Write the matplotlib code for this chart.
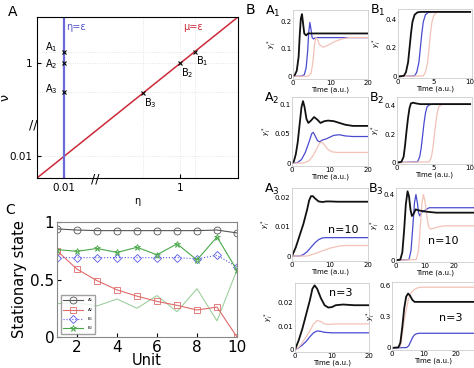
import numpy as np
import matplotlib.pyplot as plt

W, H = 474, 368

# ---- panel A: parameter plane ----
diag = [0.0034, 10]
eps_eta = 0.01
a_pts_v = [1.8, 1.0, 0.24]
a_names = ['A$_1$', 'A$_2$', 'A$_3$']
b_pts = [1.8, 1.0, 0.23]
b_names = ['B$_1$', 'B$_2$', 'B$_3$']

# ---- panel C: stationary states per unit ----
units = np.arange(1, 11)
c_a1 = [0.94, 0.93, 0.925, 0.925, 0.925, 0.925, 0.925, 0.925, 0.93, 0.905]
c_a2 = [0.75, 0.59, 0.49, 0.41, 0.355, 0.31, 0.275, 0.235, 0.26, 0.0]
c_b1 = [0.69, 0.69, 0.69, 0.69, 0.69, 0.69, 0.69, 0.68, 0.71, 0.61]
c_b2 = [0.76, 0.745, 0.77, 0.735, 0.78, 0.715, 0.81, 0.67, 0.87, 0.58]
c_extra = [0.29, 0.30, 0.27, 0.33, 0.25, 0.36, 0.22, 0.42, 0.14, 0.585]

# ---- panel B: time courses (black, blue, pink) ----
a1_k_t = [0, 0.5, 1, 1.5, 1.8, 2.1, 2.4, 2.7, 3.0, 3.5, 4, 5, 20]
a1_k_y = [0, 0.005, 0.02, 0.07, 0.15, 0.21, 0.225, 0.19, 0.155, 0.148, 0.155, 0.155, 0.155]
a1_b_t = [0, 2, 3, 3.5, 3.9, 4.2, 4.5, 4.8, 5.1, 5.5, 6, 8, 20]
a1_b_y = [0, 0, 0.005, 0.03, 0.09, 0.16, 0.195, 0.17, 0.14, 0.135, 0.14, 0.14, 0.14]
a1_p_t = [0, 4, 4.8, 5.3, 5.7, 6.1, 6.5, 7, 8, 9, 11, 13, 15, 20]
a1_p_y = [0, 0, 0.01, 0.05, 0.11, 0.14, 0.135, 0.115, 0.105, 0.11, 0.125, 0.135, 0.14, 0.14]

b1_k_t = [0, 0.8, 1.1, 1.4, 1.6, 1.8, 2.0, 2.3, 2.7, 3.2, 10]
b1_k_y = [0, 0.005, 0.03, 0.1, 0.2, 0.3, 0.38, 0.43, 0.447, 0.45, 0.45]
b1_b_t = [0, 2.3, 2.6, 2.9, 3.1, 3.3, 3.5, 3.8, 4.2, 4.7, 10]
b1_b_y = [0, 0.005, 0.03, 0.1, 0.2, 0.3, 0.38, 0.43, 0.447, 0.45, 0.45]
b1_p_t = [0, 3.5, 3.8, 4.1, 4.3, 4.5, 4.7, 5.0, 5.4, 5.9, 10]
b1_p_y = [0, 0.005, 0.03, 0.1, 0.2, 0.3, 0.38, 0.43, 0.447, 0.45, 0.45]

a2_k_t = [0, 0.5, 1, 1.5, 2, 2.5, 2.9, 3.3, 3.8, 4.3, 5, 5.8, 6.6, 7.5, 8.5, 9.5, 11, 12.5, 14, 16, 20]
a2_k_y = [0, 0.003, 0.015, 0.035, 0.065, 0.095, 0.105, 0.095, 0.075, 0.068, 0.072, 0.078, 0.074,
          0.068, 0.071, 0.072, 0.071, 0.068, 0.065, 0.063, 0.063]
a2_b_t = [0, 1.5, 2.5, 3.5, 4.5, 5.2, 5.6, 6.1, 6.7, 7.3, 8, 9, 10, 11, 12.5, 14, 16, 20]
a2_b_y = [0, 0.001, 0.006, 0.018, 0.036, 0.05, 0.052, 0.046, 0.038, 0.036, 0.039, 0.041, 0.044,
          0.047, 0.048, 0.046, 0.045, 0.045]
a2_p_t = [0, 3, 4.5, 5.5, 6.5, 7.2, 7.8, 8.5, 9.3, 10.5, 12, 20]
a2_p_y = [0, 0, 0.004, 0.012, 0.024, 0.033, 0.036, 0.031, 0.024, 0.019, 0.018, 0.018]

b2_k_t = [0, 0.6, 0.9, 1.1, 1.3, 1.5, 1.7, 1.9, 2.2, 2.6, 3.2, 10]
b2_k_y = [0, 0.005, 0.04, 0.12, 0.22, 0.31, 0.38, 0.415, 0.42, 0.415, 0.41, 0.41]
b2_b_t = [0, 2.8, 3.1, 3.3, 3.5, 3.7, 3.9, 4.1, 4.4, 4.9, 10]
b2_b_y = [0, 0.005, 0.04, 0.1, 0.19, 0.28, 0.35, 0.39, 0.405, 0.41, 0.41]
b2_p_t = [0, 4.4, 4.7, 4.9, 5.1, 5.3, 5.5, 5.7, 6.0, 6.5, 10]
b2_p_y = [0, 0.005, 0.04, 0.1, 0.19, 0.28, 0.35, 0.39, 0.405, 0.41, 0.41]

a3_k_t = [0, 1, 2, 3, 4, 4.5, 5, 5.5, 6, 7, 8, 9, 10, 12, 20]
a3_k_y = [0, 0.003, 0.007, 0.011, 0.016, 0.019, 0.0205, 0.0205, 0.0198, 0.0187, 0.0185, 0.0187,
          0.0187, 0.0186, 0.0186]
a3_b_t = [0, 2, 3, 4, 5, 6, 7, 8, 9, 20]
a3_b_y = [0, 0, 0.0005, 0.0015, 0.003, 0.0045, 0.0056, 0.0062, 0.0063, 0.0063]
a3_p_t = [0, 4, 6, 8, 10, 12, 13, 14, 20]
a3_p_y = [0, 0, 0.0008, 0.0018, 0.0027, 0.0033, 0.0035, 0.0036, 0.0036]

b3_k_t = [0, 1.5, 2.2, 2.8, 3.4, 4.0, 4.5, 5.0, 5.5, 6.0, 6.8, 7.6, 9, 11, 14, 27]
b3_k_y = [0, 0.005, 0.05, 0.18, 0.34, 0.42, 0.39, 0.31, 0.27, 0.28, 0.31, 0.305, 0.3, 0.295, 0.29, 0.29]
b3_b_t = [0, 4.5, 5.2, 5.8, 6.4, 6.9, 7.4, 7.8, 8.2, 8.8, 9.6, 10.5, 11.5, 13, 27]
b3_b_y = [0, 0.005, 0.06, 0.2, 0.35, 0.4, 0.35, 0.29, 0.27, 0.29, 0.3, 0.31, 0.32, 0.32, 0.32]
b3_p_t = [0, 7, 7.8, 8.4, 9, 9.5, 10, 10.6, 11.2, 11.9, 13, 15, 17, 27]
b3_p_y = [0, 0.005, 0.06, 0.2, 0.35, 0.4, 0.36, 0.28, 0.21, 0.19, 0.195, 0.205, 0.21, 0.21]

a4_k_t = [0, 1, 2, 3, 4, 4.7, 5.3, 6, 7, 8, 9, 10, 11, 13, 16, 20]
a4_k_y = [0, 0.004, 0.009, 0.015, 0.021, 0.026, 0.0275, 0.026, 0.022, 0.019, 0.018, 0.0182, 0.019,
          0.0193, 0.019, 0.019]
a4_b_t = [0, 1, 2, 3, 4, 5, 6, 7, 8, 10, 20]
a4_b_y = [0, 0.0008, 0.002, 0.0035, 0.0055, 0.0072, 0.008, 0.0078, 0.0074, 0.0072, 0.0072]
a4_p_t = [0, 1, 2, 3, 4, 5, 6, 7, 8, 9, 11, 20]
a4_p_y = [0, 0.001, 0.003, 0.0055, 0.008, 0.011, 0.0125, 0.012, 0.011, 0.0108, 0.011, 0.011]

b4_k_t = [0, 2, 2.6, 3.2, 3.8, 4.4, 5.0, 5.6, 6.3, 7, 8, 10, 25.5]
b4_k_y = [0, 0.005, 0.05, 0.2, 0.38, 0.49, 0.52, 0.5, 0.46, 0.44, 0.44, 0.44, 0.44]
b4_b_t = [0, 4.5, 5.2, 5.8, 6.4, 7, 7.6, 8.5, 25.5]
b4_b_y = [0, 0.003, 0.02, 0.06, 0.1, 0.125, 0.135, 0.14, 0.14]
b4_p_t = [0, 2.5, 3, 3.5, 4, 4.5, 5, 5.5, 6, 7, 8, 9, 25.5]
b4_p_y = [0, 0.01, 0.08, 0.2, 0.3, 0.38, 0.45, 0.5, 0.53, 0.56, 0.575, 0.58, 0.58]

K, BL, PK = '#111111', '#4a4ad0', '#f2c2b8'

fig = plt.figure(figsize=(W / 100, H / 100), dpi=100)


def box(l, t, r, b):
    return [l / W, 1 - b / H, (r - l) / W, (b - t) / H]


# ================= A =================
ax = fig.add_axes(box(37, 17, 238, 178))
ax.set_xscale('log')
ax.set_yscale('log')
ax.set_xlim(10 ** -2.47, 10)
ax.set_ylim(10 ** -2.47, 10)
for v in [0.01, b_pts[2], 1, b_pts[0]]:
    ax.axvline(v, color='#dddddd', lw=0.6, ls=':', zorder=0)
for v in [0.01, a_pts_v[2], 1, a_pts_v[0]]:
    ax.axhline(v, color='#dddddd', lw=0.6, ls=':', zorder=0)
ax.plot(diag, diag, color='#cc2a3a', lw=1.1)
ax.axvline(eps_eta, color='#6a6ad8', lw=1.6)
ax.plot([eps_eta] * 3, a_pts_v, 'x', color='k', ms=3, mew=0.8)
ax.plot(b_pts, b_pts, 'x', color='k', ms=3, mew=0.8)
for v, n, dy in zip(a_pts_v, a_names, [3.5, -0.5, 2]):
    ax.annotate(n, (eps_eta, v), xytext=(-5, dy), textcoords='offset points',
                ha='right', va='center', fontsize=7)
for v, n in zip(b_pts, b_names):
    ax.annotate(n, (v, v), xytext=(1, -2), textcoords='offset points',
                ha='left', va='top', fontsize=7)
ax.text(0.0108, 5.2, 'η=ε', color='#5a5ad0', fontsize=7)
ax.text(1.15, 5.2, 'μ=ε', color='#cc2a3a', fontsize=7)
ax.set_xticks([0.01, 1])
ax.set_xticklabels(['0.01', '1'])
ax.set_yticks([0.01, 1])
ax.set_yticklabels(['0.01', '1'])
ax.minorticks_off()
ax.tick_params(direction='in', labelsize=7.5, length=3)
ax.set_xlabel('η', fontsize=7, labelpad=2)
ax.set_ylabel('ν', fontsize=9)
ax.yaxis.set_label_coords(-0.125, 0.5)
ax.text(-0.02, 0.33, '//', transform=ax.transAxes, fontsize=9, ha='center', va='center',
        clip_on=False)
ax.text(0.29, -0.005, '//', transform=ax.transAxes, fontsize=9, ha='center', va='center',
        clip_on=False)

# ================= C =================
ax = fig.add_axes(box(57, 222, 237, 337))
ax.plot(units, c_extra, color='#9ed09e', lw=0.8)
ax.plot(units, c_a1, '-o', color='#555555', mfc='none', ms=5, lw=0.8, mew=0.6, label='A$_1$')
ax.plot(units, c_a2, '-s', color='#e06a6a', mfc='none', ms=5, lw=0.8, mew=0.6, label='A$_2$')
ax.plot(units, c_b1, ':D', color='#5a5ae6', mfc='none', ms=4.5, lw=0.8, mew=0.6, label='B$_1$')
ax.plot(units, c_b2, '-*', color='#4aa84a', mfc='none', ms=5, lw=0.8, mew=0.6, label='B$_2$')
ax.set_xlim(1, 10)
ax.set_ylim(0, 1)
ax.set_xticks([2, 4, 6, 8, 10])
ax.set_yticks([0, 0.5, 1])
ax.set_yticklabels(['0', '0.5', '1'])
ax.tick_params(direction='in', labelsize=11, length=3, pad=2)
ax.set_xlabel('Unit', fontsize=10.5, labelpad=-1)
ax.set_ylabel('Stationary state', fontsize=10.5, labelpad=2)
ax.legend(loc='lower left', fontsize=3, handlelength=5, borderpad=0.4,
          labelspacing=0.4, fancybox=False, edgecolor='#888888', bbox_to_anchor=(0.01, 0.01))
for s in ax.spines.values():
    s.set_color('#888888')

# ================= B =================
panels = [
    ('A$_1$', box(293, 10, 368, 79), (0, 20), (-0.01, 0.24), [0, 10, 20], [0, 0.1, 0.2],
     [(a1_k_t, a1_k_y), (a1_b_t, a1_b_y), (a1_p_t, a1_p_y)], None),
    ('B$_1$', box(398, 9, 472, 78), (0, 10.25), (-0.01, 0.47), [0, 5, 10], [0, 0.2, 0.4],
     [(b1_k_t, b1_k_y), (b1_b_t, b1_b_y), (b1_p_t, b1_p_y)], None),
    ('A$_2$', box(292, 97, 368, 166), (0, 20), (-0.005, 0.112), [0, 10, 20], [0, 0.05, 0.1],
     [(a2_k_t, a2_k_y), (a2_b_t, a2_b_y), (a2_p_t, a2_p_y)], None),
    ('B$_2$', box(397, 97, 472, 164), (0, 10.25), (-0.01, 0.46), [0, 5, 10], [0, 0.2, 0.4],
     [(b2_k_t, b2_k_y), (b2_b_t, b2_b_y), (b2_p_t, b2_p_y)], None),
    ('A$_3$', box(292, 188, 368, 261), (0, 20), (-0.0017, 0.0233), [0, 10, 20], [0, 0.01, 0.02],
     [(a3_k_t, a3_k_y), (a3_b_t, a3_b_y), (a3_p_t, a3_p_y)], ('n=10', 0.68, 0.43)),
    ('B$_3$', box(396, 188, 474, 262), (0, 27), (-0.01, 0.44), [0, 10, 20], [0, 0.2, 0.4],
     [(b3_k_t, b3_k_y), (b3_b_t, b3_b_y), (b3_p_t, b3_p_y)], ('n=10', 0.6, 0.28)),
    (None, box(295, 283, 369, 352), (0, 20), (-0.001, 0.0285), [0, 10, 20], [0, 0.01, 0.02],
     [(a4_k_t, a4_k_y), (a4_b_t, a4_b_y), (a4_p_t, a4_p_y)], ('n=3', 0.62, 0.85)),
    (None, box(392, 282, 474, 350), (0, 25.5), (-0.02, 0.63), [0, 10, 20], [0, 0.3, 0.6],
     [(b4_k_t, b4_k_y), (b4_b_t, b4_b_y), (b4_p_t, b4_p_y)], ('n=3', 0.72, 0.47)),
]

for name, rect, xl, yl, xt, yt, curves, note in panels:
    ax = fig.add_axes(rect)
    for (t, y), c, lw in zip(curves[1:], [BL, PK], [0.9, 0.9]):
        ax.plot(t, y, color=c, lw=lw)
    ax.plot(curves[0][0], curves[0][1], color=K, lw=1.3)
    ax.set_xlim(*xl)
    ax.set_ylim(*yl)
    ax.set_xticks(xt)
    ax.set_yticks(yt)
    ax.set_yticklabels([('%g' % v) for v in yt])
    ax.tick_params(length=0, labelsize=5, pad=1)
    ax.set_xlabel('Time (a.u.)', fontsize=5, labelpad=0)
    ax.set_ylabel('$y_i^*$', fontsize=5, labelpad=1)
    for s in ax.spines.values():
        s.set_color('#cccccc')
        s.set_linewidth(0.6)
    if name:
        fig.text(rect[0] - 28 / W, rect[1] + rect[3] - 1 / H, name, fontsize=9,
                 ha='left', va='center')
    if note:
        ax.text(note[1], note[2], note[0], transform=ax.transAxes, fontsize=8,
                ha='center', va='center')

fig.text(8 / W, 1 - 12 / H, 'A', fontsize=10, va='center')
fig.text(246 / W, 1 - 10 / H, 'B', fontsize=10, va='center')
fig.text(5 / W, 1 - 210 / H, 'C', fontsize=10, va='center')

fig.savefig('out.png', dpi=100)
